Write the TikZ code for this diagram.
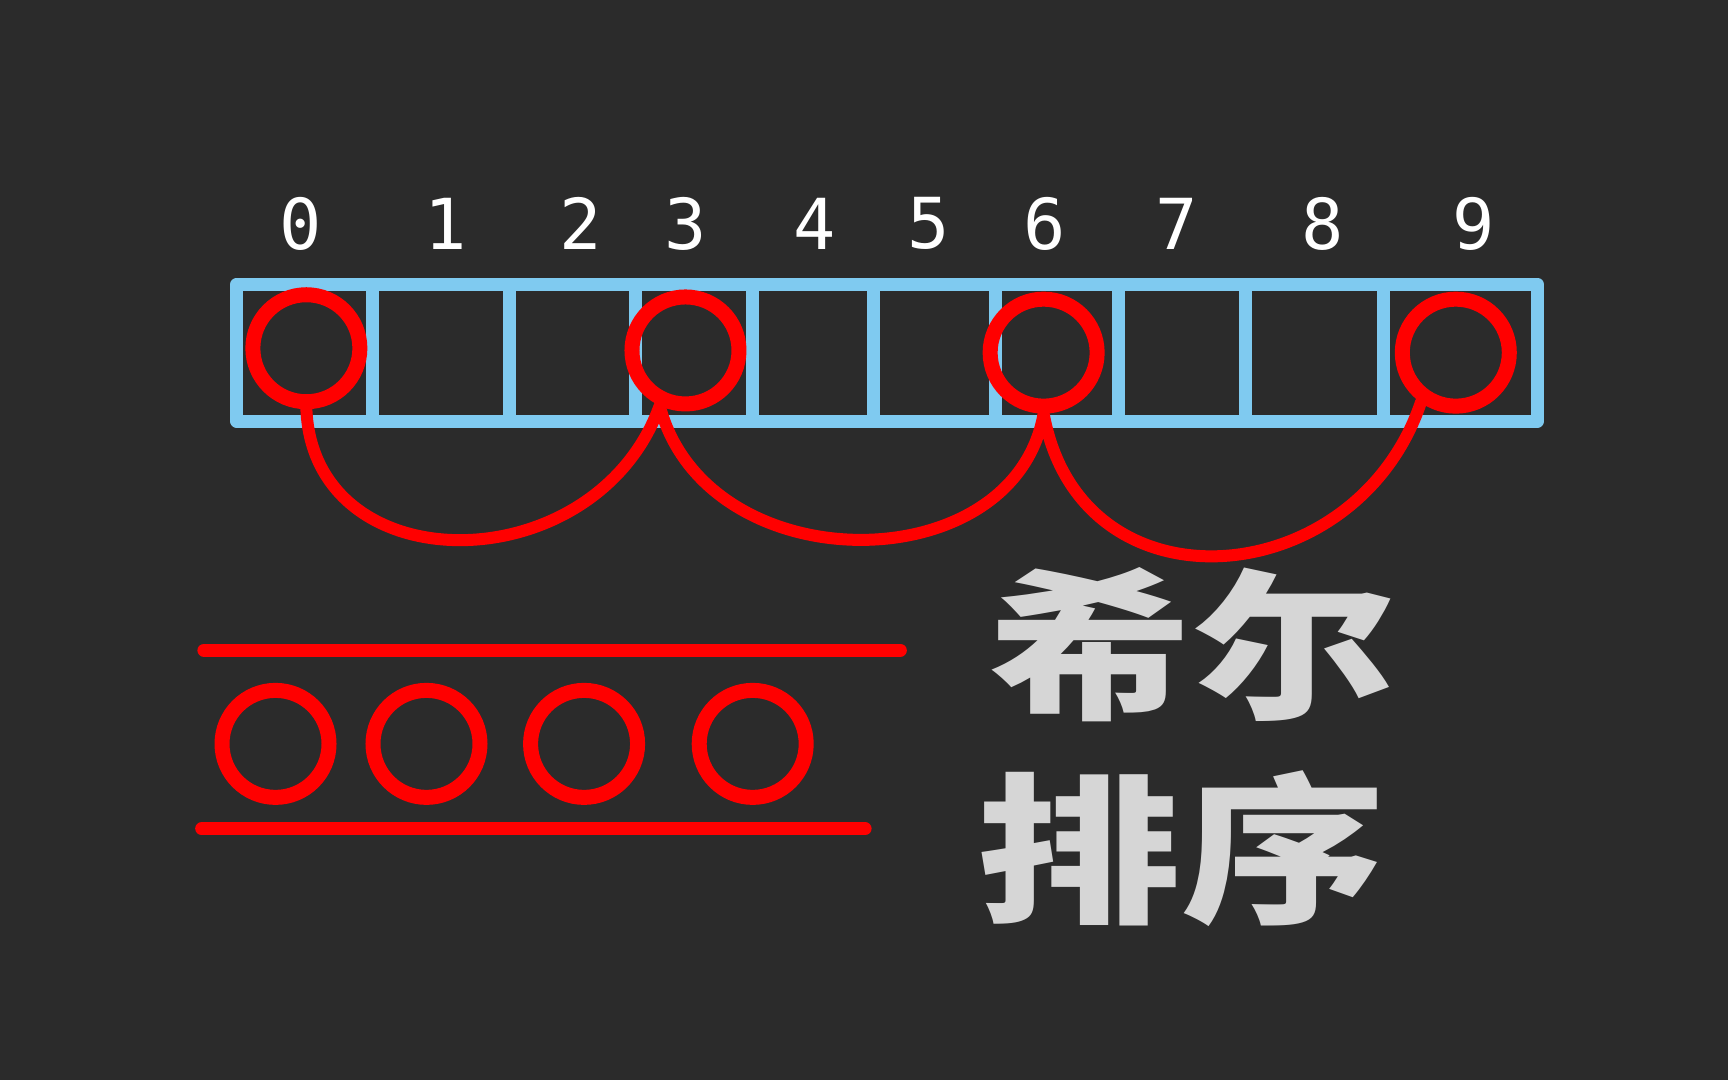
\documentclass[tikz,border=0pt]{standalone}
\usepackage{fontspec}
\setmonofont{DejaVu Sans Mono}
\newfontfamily\cjk{Noto Sans CJK SC}
\usetikzlibrary{positioning}
\definecolor{bg}{HTML}{2B2B2B}
\definecolor{cellblue}{HTML}{7FCAF0}
\definecolor{inkred}{HTML}{FF0000}
\definecolor{titlegray}{HTML}{D6D6D6}

\begin{document}
\begin{tikzpicture}[x=1.102cm,y=1.102cm,
                    cellbox/.style={draw=cellblue,line width=0.13cm,minimum height=1.37cm,inner sep=0pt,line cap=round,line join=round},
                    idx/.style={text=white,font=\ttfamily\fontsize{20}{24}\selectfont},
                    ring/.style={circle,draw=inkred,line width=0.15cm,minimum size=1.07cm,inner sep=0pt},
                    link/.style={draw=inkred,line width=0.12cm,line cap=round},
                    bar/.style={draw=inkred,line width=0.13cm,line cap=round},
                    title/.style={text=titlegray,font=\cjk\bfseries\fontsize{46}{52}\selectfont,xscale=1.26,transform shape}]
                    \fill[bg] (0,0) rectangle (15.68,-9.8);
                    \useasboundingbox (0,0) rectangle (15.68,-9.8);
                    % array cells and their indices
                    \foreach \a/\b [count=\i from 0] in {2.15/3.38,3.38/4.62,4.62/5.77,5.77/6.83,6.83/7.93,7.93/9.03,9.03/10.15,10.15/11.30,11.30/12.55,12.55/13.95}
                        \node[cellbox, minimum width={(\b-\a)*1.102cm}] (cell\i) at ({(\a+\b)/2},-3.2) {};
                    \foreach \x [count=\i from 0] in {2.73,4.04,5.27,6.22,7.39,8.43,9.48,10.68,12.00,13.37}
                        \node[idx] (idx\i) at (\x,-2.03) {\i};
                    % gap 3 rings
                    \foreach \n/\x/\y in {0/2.78/-3.16,3/6.22/-3.18,6/9.47/-3.20,9/13.21/-3.20}
                        \node[ring] (c\n) at (\x,\y) {};
                    \path[link]
                    (c0.-90) .. controls +(0.07,-1.6) and +(-0.58,-1.61) .. (c3.-115)
                    (c3.-115) .. controls +(0.42,-1.61) and +(-0.27,-1.54) .. (c6.-90)
                    (c6.-90) .. controls +(0.33,-1.84) and +(-0.59,-1.74) .. (c9.-125)
                    ;
                    % lower group
                    \draw[bar] (1.85,-5.90) -- (8.17,-5.90);
                    \draw[bar] (1.83,-7.52) -- (7.85,-7.52);
                    \foreach \x [count=\i] in {2.50,3.87,5.30,6.83}
                        \node[ring] (d\i) at (\x,-6.75) {};
                    \node[title] (t1) at (10.82,-5.85) {希尔};
                    \node[title] (t2) at (10.72,-7.70) {排序};
                \end{tikzpicture}
\end{document}
